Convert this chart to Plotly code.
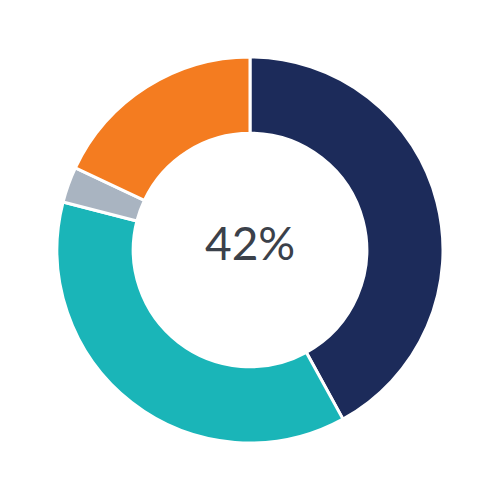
import plotly.graph_objects as go

# Slice data, clockwise from 12 o'clock
labels = ['Navy', 'Teal', 'Gray', 'Orange']
values = [42, 37, 3, 18]
colors = ['#1c2b5a', '#1ab5b8', '#a9b4c1', '#f47c20']
center_text = '42%'

fig = go.Figure(go.Pie(
    labels=labels,
    values=values,
    hole=0.605,
    sort=False,
    direction='clockwise',
    rotation=0,
    marker=dict(colors=colors, line=dict(color='white', width=3)),
    textinfo='none',
    hoverinfo='label+percent',
))

fig.add_annotation(text=center_text, x=0.5, y=0.5, xref='paper', yref='paper',
                   showarrow=False, yshift=8,
                   font=dict(family='Lato', size=46, color='#3b414a'))

# page body adds an 8px offset, so margins are shifted to keep the ring centred
fig.update_layout(width=500, height=500, showlegend=False,
                  margin=dict(l=49, r=65, t=49, b=65),
                  paper_bgcolor='white', plot_bgcolor='white')

fig.write_html('out.html')
